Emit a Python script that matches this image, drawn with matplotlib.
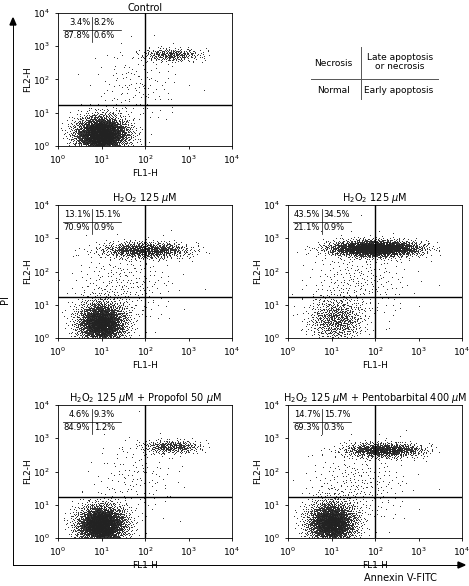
import numpy as np
import matplotlib
matplotlib.use("Agg")
import matplotlib.pyplot as plt
from matplotlib.lines import Line2D

titles = ["Control", r"H$_2$O$_2$ 125 $\mu$M", r"H$_2$O$_2$ 125 $\mu$M",
          r"H$_2$O$_2$ 125 $\mu$M + Propofol 50 $\mu$M",
          r"H$_2$O$_2$ 125 $\mu$M + Pentobarbital 400 $\mu$M"]
# quadrant percentages: UL, UR, LL, LR
quad_pct = [["3.4%", "8.2%", "87.8%", "0.6%"],
            ["13.1%", "15.1%", "70.9%", "0.9%"],
            ["43.5%", "34.5%", "21.1%", "0.9%"],
            ["4.6%", "9.3%", "84.9%", "1.2%"],
            ["14.7%", "15.7%", "69.3%", "0.3%"]]
# event clusters (log10 centre x, y, spread x, y, count)
clusters = [
    [(1.0, 0.35, 0.30, 0.28, 3500), (2.6, 2.75, 0.35, 0.10, 350), (1.8, 1.8, 0.5, 0.6, 150)],
    [(1.0, 0.45, 0.28, 0.33, 2800), (2.0, 2.65, 0.50, 0.12, 1100), (1.5, 1.6, 0.6, 0.6, 300)],
    [(1.1, 0.55, 0.32, 0.35, 800), (2.0, 2.70, 0.50, 0.12, 3000), (1.6, 1.7, 0.6, 0.6, 300)],
    [(1.0, 0.40, 0.28, 0.30, 3300), (2.6, 2.75, 0.35, 0.10, 400), (1.8, 1.8, 0.5, 0.6, 150)],
    [(1.0, 0.45, 0.28, 0.33, 2800), (2.2, 2.65, 0.45, 0.11, 1100), (1.6, 1.6, 0.6, 0.6, 300)],
]
gate_x, gate_y = 100, 17

def halton(n, base):
    out = np.empty(n)
    for i in range(n):
        f, r, k = 1.0, 0.0, i + 1
        while k > 0:
            f /= base
            r += f * (k % base)
            k //= base
        out[i] = r
    return out

def cluster_pts(cx, cy, sx, sy, n, off):
    u1 = halton(n + off, 2)[off:]
    u2 = halton(n + off, 3)[off:]
    u1 = np.clip(u1, 1e-6, 1)
    r = np.sqrt(-2 * np.log(u1))
    x = cx + sx * r * np.cos(2 * np.pi * u2)
    y = cy + sy * r * np.sin(2 * np.pi * u2)
    m = (x > 0.02) & (x < 3.5) & (y > 0.02) & (y < 3.98)
    return 10 ** x[m], 10 ** y[m]

fig = plt.figure(figsize=(4.69, 5.86), dpi=100)
W, H = 469, 586
def ax_at(x0, ytop, w=174, h=133):
    return fig.add_axes([x0 / W, 1 - (ytop + h) / H, w / W, h / H])

positions = [(58, 13), (58, 205), (288, 205), (58, 405), (288, 405)]
fs = 6.5
for i, (x0, yt) in enumerate(positions):
    ax = ax_at(x0, yt)
    off = 20
    for c in clusters[i]:
        px, py = cluster_pts(*c, off)
        off += c[4] + 7
        ax.scatter(px, py, s=0.45, c="#222222", linewidths=0, rasterized=True)
    ax.set_xscale("log"); ax.set_yscale("log")
    ax.set_xlim(1, 1e4); ax.set_ylim(1, 1e4)
    ax.axvline(gate_x, color="k", lw=1)
    ax.axhline(gate_y, color="k", lw=1)
    ax.set_xticks([1, 10, 100, 1000, 10000])
    ax.set_yticks([1, 10, 100, 1000, 10000])
    ax.minorticks_off()
    ax.tick_params(labelsize=fs, length=2, width=0.6)
    for s in ax.spines.values():
        s.set_linewidth(0.6)
    ax.set_xlabel("FL1-H", fontsize=fs, labelpad=2)
    ax.set_ylabel("FL2-H", fontsize=fs, labelpad=1)
    ax.set_title(titles[i], fontsize=7, pad=1.5)
    ul, ur, ll, lr = quad_pct[i]
    kw = dict(transform=ax.transAxes, fontsize=6)
    ax.text(0.185, 0.925, ul, ha="right", va="center", **kw)
    ax.text(0.205, 0.925, ur, ha="left", va="center", **kw)
    ax.text(0.185, 0.83, ll, ha="right", va="center", **kw)
    ax.text(0.205, 0.83, lr, ha="left", va="center", **kw)
    ax.add_line(Line2D([0.195, 0.195], [0.78, 0.97], transform=ax.transAxes, color="k", lw=0.5))
    ax.add_line(Line2D([0.03, 0.36], [0.875, 0.875], transform=ax.transAxes, color="k", lw=0.5))

def fx(p): return p / W
def fy(p): return 1 - p / H
# legend table
fig.text(fx(333), fy(63), "Necrosis", ha="center", va="center", fontsize=6.5)
fig.text(fx(400), fy(62), "Late apoptosis\nor necrosis", ha="center", va="center", fontsize=6.5, linespacing=1.0)
fig.text(fx(333), fy(90), "Normal", ha="center", va="center", fontsize=6.5)
fig.text(fx(399), fy(90), "Early apoptosis", ha="center", va="center", fontsize=6.5)
fig.add_artist(Line2D([fx(361), fx(361)], [fy(47), fy(99)], color="#555555", lw=0.7))
fig.add_artist(Line2D([fx(311), fx(438)], [fy(79), fy(79)], color="#555555", lw=0.7))
# outer axes arrows
fig.add_artist(Line2D([fx(13), fx(13)], [fy(565), fy(25)], color="k", lw=0.7))
fig.add_artist(Line2D([fx(13), fx(458)], [fy(565), fy(565)], color="k", lw=0.7))
fig.patches.append(plt.Polygon([[fx(10), fy(25)], [fx(16), fy(25)], [fx(13), fy(18)]],
                               closed=True, color="k", transform=fig.transFigure))
fig.patches.append(plt.Polygon([[fx(458), fy(562)], [fx(458), fy(568)], [fx(465), fy(565)]],
                               closed=True, color="k", transform=fig.transFigure))
fig.text(fx(5), fy(300), "PI", rotation=90, ha="center", va="center", fontsize=7)
fig.text(fx(400), fy(578), "Annexin V-FITC", ha="center", va="center", fontsize=7)

fig.savefig("out.png", dpi=100)
